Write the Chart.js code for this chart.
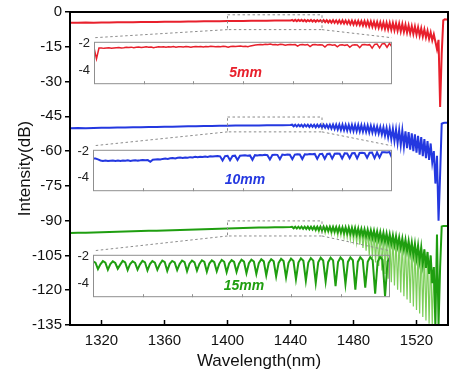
<!DOCTYPE html>
<html><head><meta charset="utf-8">
<script src="https://cdn.jsdelivr.net/npm/chart.js@4/dist/chart.umd.min.js"></script>
<style>
html,body{margin:0;padding:0;background:#fff;}
#wrap{position:relative;width:474px;height:381px;overflow:hidden;background:#fff;}
canvas{position:absolute;}
</style></head><body>
<div id="wrap"><canvas id="main" width="474" height="381" style="left:0;top:0"></canvas></div>
<script>
// ---------- tick labels ----------
const xTickValues = [1320, 1360, 1400, 1440, 1480, 1520];
const yTickValues = [0, -15, -30, -45, -60, -75, -90, -105, -120, -135];
const insetXTicks = [1410, 1420, 1430, 1440, 1450];
const insetYTicks = [-2, -4];
const sampleLabels = ['5mm', '10mm', '15mm'];

// ---------- wavelength grids (nm) ----------
const wlCoarse = [1300,1305,1310,1315,1320,1325,1330,1335,1340,1345,1350,1355,1360,1365,1370,1375,1380,1385,1390,1395,1400,1405,1410,1415,1420,1425,1430,1435,1440];
const wlFineFirst = 1441, wlFineLast = 1540;
const wlDipsFirst = 1455, wlDipsLast = 1532;
const insetWlStart = 1400, insetWlStep = 0.5;

// ---------- main spectra (dB) ----------
const db5mmCoarse = [-4.6,-4.6,-4.5,-4.6,-4.5,-4.5,-4.4,-4.4,-4.4,-4.3,-4.3,-4.3,-4.2,-4.2,-4.2,-4.1,-4.1,-4.0,-4.0,-4.0,-3.9,-3.9,-3.9,-3.8,-3.8,-3.8,-3.7,-3.7,-3.7];
const db5mmFine = [
 -3.4,-3.9,-3.4,-4.0,-3.4,-3.9,-3.4,-4.0,-3.4,-4.1,
 -3.5,-4.0,-3.4,-4.1,-3.5,-4.2,-3.5,-4.1,-3.5,-4.3,
 -3.5,-4.4,-3.5,-4.5,-3.6,-4.6,-3.5,-4.7,-3.6,-4.8,
 -3.6,-4.9,-3.6,-5.0,-3.7,-5.1,-3.7,-5.3,-3.7,-5.4,
 -3.8,-5.5,-3.8,-5.6,-3.9,-5.8,-3.9,-6.0,-4.0,-6.2,
 -4.1,-6.4,-4.2,-6.6,-4.3,-6.8,-4.4,-7.0,-4.5,-7.3,
 -4.6,-7.5,-4.7,-7.7,-4.8,-7.9,-4.9,-8.1,-5.0,-8.4,
 -5.2,-8.6,-5.5,-8.9,-5.8,-9.2,-6.1,-9.5,-6.3,-9.8,
 -6.6,-10.2,-7.0,-10.6,-7.5,-11.0,-8.1,-11.6,-8.8,-12.2,
 -9.6,-12.8,-16,-12,-41,-18,-3.6,-3.1,-3.2,-3.2];

const db10mmCoarse = [-50.1,-50.0,-50.1,-50.0,-49.9,-49.9,-49.8,-49.8,-49.7,-49.7,-49.6,-49.6,-49.5,-49.5,-49.4,-49.3,-49.3,-49.2,-49.2,-49.1,-49.1,-49.0,-49.0,-48.9,-48.9,-48.8,-48.8,-48.8,-48.7];
const db10mmFine = [
 -48.6,-49.3,-48.6,-49.4,-48.6,-49.3,-48.6,-49.5,-48.6,-49.4,
 -48.6,-49.6,-48.6,-49.5,-48.6,-49.7,-48.6,-49.6,-48.6,-49.8,
 -48.6,-49.9,-48.6,-50.1,-48.6,-50.3,-48.6,-50.5,-48.6,-50.7,
 -48.6,-50.9,-48.6,-51.0,-48.7,-51.1,-48.7,-51.2,-48.7,-51.3,
 -48.7,-51.4,-48.7,-51.5,-48.8,-51.6,-48.9,-51.7,-49.0,-51.9,
 -49.1,-52.0,-49.3,-52.2,-49.4,-52.4,-49.6,-52.8,-49.8,-53.3,
 -50.0,-54.0,-50.2,-54.8,-50.4,-55.6,-50.7,-56.5,-51.0,-57.4,
 -51.2,-58.0,-51.5,-58.7,-51.8,-59.4,-52.3,-60.0,-52.8,-60.7,
 -53.4,-61.5,-54.0,-62.2,-54.8,-63.0,-55.7,-63.8,-56.7,-64.8,
 -60,-74,-62,-90,-70,-48.2,-47.9,-47.8,-47.8,-47.8];

const db15mmCoarse = [-95.3,-95.2,-95.2,-95.1,-95.0,-94.9,-94.8,-94.7,-94.6,-94.5,-94.4,-94.3,-94.2,-94.1,-94.0,-93.9,-93.8,-93.7,-93.6,-93.5,-93.4,-93.3,-93.2,-93.1,-93.0,-92.9,-92.8,-92.8,-92.7];
const db15mmFine = [
 -92.6,-93.3,-92.6,-93.4,-92.6,-93.4,-92.6,-93.5,-92.6,-93.6,
 -92.6,-93.7,-92.6,-93.8,-92.6,-93.9,-92.6,-94.0,-92.6,-94.2,
 -92.6,-94.3,-92.7,-94.4,-92.7,-94.6,-92.7,-94.7,-92.8,-94.9,
 -92.8,-95.0,-92.9,-95.2,-92.9,-95.4,-93.0,-95.6,-93.1,-95.8,
 -93.2,-96.0,-93.4,-96.2,-93.5,-96.5,-93.7,-96.8,-93.9,-97.1,
 -94.1,-97.4,-94.3,-97.8,-94.6,-98.2,-94.9,-98.7,-95.2,-99.1,
 -95.5,-99.6,-95.9,-100.1,-96.3,-100.6,-96.7,-101.1,-97.2,-101.7,
 -97.7,-102.4,-98.2,-103.1,-98.8,-104.0,-99.4,-105.0,-100.0,-106.1,
 -100.7,-107.3,-101.5,-108.7,-102.4,-110.4,-103.5,-113.0,-105.0,-117.0,
 -110.0,-135,-96,-135,-110,-92.5,-92.3,-92.3,-92.3,-92.3];
// deep fringe dips of the 15 mm spectrum (1455..1532 nm)
const db15mmDips = [
 -92.6,-94.5,-92.6,-95.0,-92.6,-94.8,
 -92.6,-95.5,-92.7,-95.3,-92.7,-96.0,-92.7,-95.8,-92.8,-96.6,
 -92.8,-96.5,-92.9,-97.3,-92.9,-97.4,-93.0,-98.2,-93.1,-98.6,
 -93.2,-99.6,-93.4,-100.4,-93.5,-101.8,-93.7,-103.0,-93.9,-104.8,
 -94.1,-106.2,-94.3,-108.0,-94.6,-109.5,-94.9,-111.5,-95.2,-113.0,
 -95.5,-115.0,-95.9,-116.5,-96.3,-118.0,-96.7,-119.8,-97.2,-121.0,
 -97.7,-122.6,-98.2,-124.0,-98.8,-125.5,-99.4,-127.0,-100.0,-128.5,
 -100.7,-130.0,-101.5,-131.5,-102.4,-133.0,-103.5,-134.5,-105.0,-135,
 -110.0,-135];

// ---------- inset spectra, 1400..1460 nm every 0.5 nm (dB) ----------
const inset5mm = [
 -2.33,-3.15,-2.36,-2.35,-2.38,-2.36,-2.34,-2.37,-2.35,-2.33,
 -2.32,-2.36,-2.34,-2.30,-2.31,-2.29,-2.33,-2.30,-2.28,-2.31,
 -2.29,-2.27,-2.30,-2.28,-2.34,-2.29,-2.27,-2.28,-2.26,-2.30,
 -2.27,-2.28,-2.25,-2.29,-2.27,-2.26,-2.28,-2.25,-2.27,-2.30,
 -2.26,-2.24,-2.27,-2.25,-2.28,-2.24,-2.26,-2.23,-2.25,-2.27,
 -2.24,-2.26,-2.23,-2.25,-2.30,-2.24,-2.22,-2.25,-2.23,-2.21,
 -2.24,-2.22,-2.26,-2.20,-2.17,-2.14,-2.12,-2.10,-2.11,-2.08,
 -2.10,-2.07,-2.11,-2.09,-2.13,-2.08,-2.10,-2.15,-2.11,-2.09,
 -2.12,-2.10,-2.22,-2.11,-2.09,-2.13,-2.10,-2.25,-2.12,-2.10,
 -2.14,-2.11,-2.13,-2.28,-2.12,-2.10,-2.15,-2.12,-2.27,-2.13,
 -2.11,-2.16,-2.12,-2.30,-2.14,-2.11,-2.13,-2.33,-2.12,-2.10,
 -2.14,-2.11,-2.36,-2.09,-2.07,-2.35,-2.05,-2.03,-2.30,-2.02,
 -2.28];
const inset10mm = [
 -2.55,-2.56,-2.62,-2.70,-2.73,-2.71,-2.74,-2.72,-2.70,-2.73,
 -2.71,-2.74,-2.70,-2.72,-2.69,-2.73,-2.70,-2.68,-2.71,-2.69,
 -2.66,-2.69,-2.67,-2.80,-2.64,-2.62,-2.60,-2.63,-2.58,-2.56,
 -2.58,-2.54,-2.52,-2.55,-2.50,-2.48,-2.51,-2.47,-2.49,-2.45,
 -2.47,-2.43,-2.46,-2.42,-2.44,-2.40,-2.43,-2.39,-2.41,-2.38,
 -2.36,-2.39,-2.70,-2.37,-2.35,-2.68,-2.36,-2.34,-2.66,-2.35,
 -2.33,-2.31,-2.34,-2.32,-2.65,-2.30,-2.32,-2.29,-2.31,-2.28,
 -2.30,-2.62,-2.29,-2.27,-2.28,-2.61,-2.26,-2.28,-2.25,-2.27,
 -2.60,-2.26,-2.24,-2.25,-2.59,-2.23,-2.25,-2.22,-2.24,-2.21,
 -2.58,-2.22,-2.20,-2.57,-2.21,-2.19,-2.56,-2.20,-2.18,-2.19,
 -2.55,-2.17,-2.18,-2.52,-2.16,-2.15,-2.55,-2.14,-2.13,-2.15,
 -2.50,-2.12,-2.11,-2.52,-2.10,-2.48,-2.09,-2.08,-2.10,-2.07,
 -2.50];
const inset15mm = [
 -2.38,-2.48,-2.95,-2.60, -2.36,-2.47,-3.00,-2.58, -2.38,-2.50,-2.92,-2.62, -2.35,-2.46,-3.02,-2.57,
 -2.37,-2.49,-2.98,-2.60, -2.34,-2.45,-3.05,-2.58, -2.36,-2.47,-3.00,-2.59, -2.33,-2.44,-3.08,-2.56,
 -2.35,-2.46,-3.02,-2.58, -2.32,-2.43,-3.10,-2.55, -2.33,-2.45,-3.06,-2.57, -2.30,-2.42,-3.14,-2.54,
 -2.31,-2.44,-3.10,-2.56, -2.28,-2.41,-3.18,-2.53, -2.29,-2.42,-3.15,-2.55, -2.26,-2.40,-3.25,-2.52,
 -2.25,-2.39,-3.30,-2.51, -2.23,-2.38,-3.40,-2.50, -2.22,-2.37,-3.48,-2.49, -2.20,-2.36,-3.55,-2.48,
 -2.18,-2.35,-3.70,-2.47, -2.16,-2.34,-3.80,-2.46, -2.14,-2.33,-3.95,-2.45, -2.12,-2.32,-3.85,-2.44,
 -2.11,-2.31,-4.20,-2.43, -2.10,-2.30,-4.05,-2.42, -2.09,-2.30,-4.45,-2.42, -2.08,-2.29,-4.30,-2.41,
 -2.07,-2.29,-4.75,-2.41, -2.06,-2.28,-4.95,-2.40,
 -2.10];

// ---------- zoom windows & inset placement (main-chart data coordinates) ----------
const zoomWindows = [
  {x0:1400, x1:1460, y0:-1.2,  y1:-7.6},
  {x0:1400, x1:1460, y0:-45.3, y1:-51.7},
  {x0:1400, x1:1460, y0:-90.1, y1:-96.6}
];
const insetBoxes = [
  {x0:1315.2, x1:1504.3, y0:-11.1,  y1:-35.3},
  {x0:1314.8, x1:1504.3, y0:-57.7,  y1:-81.6},
  {x0:1314.8, x1:1503.2, y0:-103.0, y1:-127.2}
];
const insetLabelPos = {x:1430.5, y:-4.2};
const insetRange = {min:-5.0, max:-1.9};

// ---------- styles ----------
const FONT = '"Liberation Sans", Arial, Helvetica, sans-serif';
const cRed = '#e8202c', cBlue = '#2438e0', cGreen = '#1f9e10', cGreenLight = '#7ccf5a';

function range(a, b) { const r = []; for (let v = a; v <= b; v++) r.push(v); return r; }
const wlFine = range(wlFineFirst, wlFineLast);
const wlDips = range(wlDipsFirst, wlDipsLast);
const wlMain = wlCoarse.concat(wlFine);
function pts(xs, ys) { return xs.map((x, i) => ({x: x, y: ys[i]})); }

const db5mm = db5mmCoarse.concat(db5mmFine);
const db10mm = db10mmCoarse.concat(db10mmFine);
const db15mm = db15mmCoarse.concat(db15mmFine);

const mainDecor = {
  id: 'mainDecor',
  afterDraw(chart) {
    const {ctx, chartArea: a, scales: {x, y}} = chart;
    ctx.save();
    ctx.strokeStyle = '#8c8c8c'; ctx.lineWidth = 1; ctx.setLineDash([2.5, 2.5]);
    zoomWindows.forEach((w, i) => {
      const l = x.getPixelForValue(w.x0), r = x.getPixelForValue(w.x1);
      const t = y.getPixelForValue(w.y0), b = y.getPixelForValue(w.y1);
      ctx.strokeRect(l, t, r - l, b - t);
      const box = insetBoxes[i];
      const il = x.getPixelForValue(box.x0), ir = x.getPixelForValue(box.x1), it = y.getPixelForValue(box.y0);
      ctx.beginPath();
      ctx.moveTo(l, b); ctx.lineTo(il, it);
      ctx.moveTo(r, b); ctx.lineTo(ir, it);
      ctx.stroke();
    });
    ctx.setLineDash([]);
    ctx.strokeStyle = '#000'; ctx.lineWidth = 1.5;
    x.ticks.forEach(t => {
      const px = x.getPixelForValue(t.value);
      ctx.beginPath(); ctx.moveTo(px, a.bottom); ctx.lineTo(px, a.bottom - 5); ctx.stroke();
    });
    ctx.lineWidth = 2;
    ctx.strokeRect(a.left, a.top, a.right - a.left, a.bottom - a.top);
    ctx.restore();
  }
};

const mainChart = new Chart(document.getElementById('main'), {
  type: 'line',
  data: { datasets: [
    {data: pts(wlMain, db5mm), borderColor: cRed, borderWidth: 2},
    {data: pts(wlMain, db10mm), borderColor: cBlue, borderWidth: 2},
    {data: pts(wlMain, db15mm), borderColor: cGreen, borderWidth: 2},
    {data: pts(wlDips, db15mmDips), borderColor: cGreenLight, borderWidth: 1.2}
  ]},
  options: {
    responsive: false, animation: false, devicePixelRatio: 1,
    elements: {point: {radius: 0}, line: {tension: 0}},
    layout: {padding: {top: 9, right: 26, left: 0, bottom: 0}},
    plugins: {legend: {display: false}, tooltip: {enabled: false}},
    scales: {
      x: {
        type: 'linear', min: 1300, max: 1540,
        afterBuildTicks: s => { s.ticks = xTickValues.map(v => ({value: v})); },
        afterFit: s => { s.height = 56; },
        grid: {display: false, drawTicks: false}, border: {display: false},
        ticks: {padding: 7, color: '#111', font: {family: FONT, size: 15}, callback: v => String(v)},
        title: {display: true, text: 'Wavelength(nm)', color: '#111', font: {family: FONT, size: 17}, padding: {top: 0, bottom: 9}}
      },
      y: {
        type: 'linear', min: -135, max: 0,
        afterBuildTicks: s => { s.ticks = yTickValues.map(v => ({value: v})); },
        afterFit: s => { s.width = 70; },
        grid: {drawOnChartArea: false, drawTicks: true, tickLength: 5, color: '#000', lineWidth: 1.5},
        border: {display: false},
        ticks: {padding: 3, color: '#111', font: {family: FONT, size: 15}, callback: v => String(v)},
        title: {display: true, text: 'Intensity(dB)', color: '#111', font: {family: FONT, size: 17}, padding: {top: 15, bottom: 0}}
      }
    }
  },
  plugins: [mainDecor]
});

const insetDecor = {
  id: 'insetDecor',
  afterDraw(chart, args, opts) {
    const {ctx, chartArea: a, scales: {x, y}} = chart;
    ctx.save();
    ctx.strokeStyle = '#8f8f8f'; ctx.lineWidth = 1;
    ctx.strokeRect(a.left + 0.5, a.top + 0.5, a.right - a.left - 1, a.bottom - a.top - 1);
    insetXTicks.forEach(v => {
      const px = Math.round(x.getPixelForValue(v)) + 0.5;
      ctx.beginPath(); ctx.moveTo(px, a.bottom); ctx.lineTo(px, a.bottom - 3); ctx.stroke();
    });
    ctx.fillStyle = opts.color;
    ctx.font = 'italic bold 14px ' + FONT;
    ctx.textAlign = 'center'; ctx.textBaseline = 'middle';
    ctx.fillText(opts.text, x.getPixelForValue(insetLabelPos.x), y.getPixelForValue(insetLabelPos.y));
    ctx.restore();
  }
};

const insetSeries = [inset5mm, inset10mm, inset15mm];
const insetColors = [cRed, cBlue, cGreen];
const insetWidths = [1.5, 2, 2];
const wrap = document.getElementById('wrap');
const mx = mainChart.scales.x, my = mainChart.scales.y;
insetBoxes.forEach((box, i) => {
  const padL = 28, padT = 8, padR = 2, padB = 2;
  const l = Math.round(mx.getPixelForValue(box.x0)), r = Math.round(mx.getPixelForValue(box.x1));
  const t = Math.round(my.getPixelForValue(box.y0)), b = Math.round(my.getPixelForValue(box.y1));
  const cv = document.createElement('canvas');
  cv.width = (r - l) + padL + padR; cv.height = (b - t) + padT + padB;
  cv.style.left = (l - padL) + 'px'; cv.style.top = (t - padT) + 'px';
  cv.style.width = cv.width + 'px'; cv.style.height = cv.height + 'px';
  wrap.appendChild(cv);
  const series = insetSeries[i];
  new Chart(cv, {
    type: 'line',
    data: {datasets: [{
      data: series.map((v, k) => ({x: insetWlStart + k * insetWlStep, y: v})),
      borderColor: insetColors[i], borderWidth: insetWidths[i]
    }]},
    options: {
      responsive: false, animation: false, devicePixelRatio: 1,
      elements: {point: {radius: 0}, line: {tension: 0}},
      layout: {padding: {top: padT, right: padR, left: 0, bottom: padB}},
      plugins: {legend: {display: false}, tooltip: {enabled: false},
        insetDecor: {text: sampleLabels[i], color: insetColors[i]}},
      scales: {
        x: {type: 'linear', min: insetWlStart, max: 1460, display: false},
        y: {
          type: 'linear', min: insetRange.min, max: insetRange.max,
          afterBuildTicks: s => { s.ticks = insetYTicks.map(v => ({value: v})); },
          afterFit: s => { s.width = padL; },
          grid: {drawOnChartArea: false, drawTicks: false}, border: {display: false},
          ticks: {padding: 4, color: '#222', font: {family: FONT, size: 13}, callback: v => String(v)}
        }
      }
    },
    plugins: [insetDecor]
  });
});
</script></body></html>
